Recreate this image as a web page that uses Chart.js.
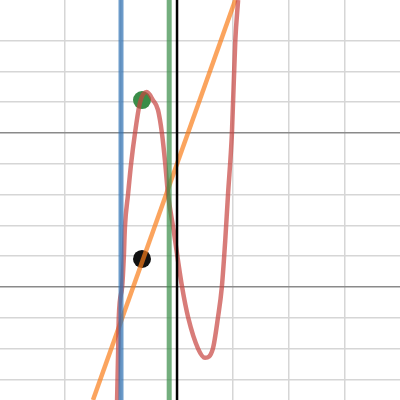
<!DOCTYPE html>
<html>
<head>
<meta charset="utf-8">
<script src="https://cdn.jsdelivr.net/npm/chart.js@4"></script>
<style>
  body { margin: 0; background: #fff; }
</style>
</head>
<body>
<canvas id="myChart" width="400" height="400"></canvas>
<script>
// curve points (graph units)
const curveX = [-1.07, -1.05, -1.04, -0.98, -0.95, -0.93, -0.875, -0.82, -0.75, -0.66, -0.54, -0.43, -0.34, -0.27, -0.21, -0.16, -0.07, 0.09, 0.2, 0.375, 0.5, 0.64, 0.73, 0.8, 0.86, 0.91, 0.98, 1.04, 1.09];
const curveY = [-3.67, -1.98, -1.0, 0, 0.97, 1.95, 3.0, 4.0, 5.0, 6.0, 6.33, 6.07, 5.75, 5.0, 4.0, 3.0, 1.95, 0, -1.0, -2.0, -2.3, -2.0, -1.0, 0, 1.5, 3.0, 5.0, 8.0, 9.32];

const lineX = [-1.5, 1.04];
const lineY = [-3.67, 9.32];

const blueX = -1.0;
const greenX = -0.14;
const blackX = 0;

const greenPoint = { x: -0.625, y: 6.07 };
const blackPoint = { x: -0.625, y: 0.91 };

const xMin = -3.16, xMax = 3.98;
const yMin = -3.67, yMax = 9.32;

function zip(xs, ys) {
  return xs.map((x, i) => ({ x: x, y: ys[i] }));
}

function vline(x) {
  return [{ x: x, y: yMin - 1 }, { x: x, y: yMax + 1 }];
}

function onlyWhole(axis) {
  axis.ticks = axis.ticks.filter((t) => Math.abs(t.value - Math.round(t.value)) < 1e-6);
}

new Chart(document.getElementById("myChart"), {
  type: "scatter",
  data: {
    datasets: [
      { data: vline(blueX), showLine: true, borderColor: "rgba(45,112,179,0.7)", borderWidth: 5, pointRadius: 0 },
      { data: vline(greenX), showLine: true, borderColor: "rgba(56,140,70,0.7)", borderWidth: 5, pointRadius: 0 },
      { data: vline(blackX), showLine: true, borderColor: "#000", borderWidth: 2.5, pointRadius: 0 },
      { data: zip(curveX, curveY), showLine: true, borderColor: "rgba(199,68,64,0.7)", borderWidth: 4.5, pointRadius: 0, cubicInterpolationMode: "monotone" },
      { data: zip(lineX, lineY), showLine: true, borderColor: "rgba(250,126,25,0.7)", borderWidth: 4.5, pointRadius: 0 },
      { data: [greenPoint], pointRadius: 9, backgroundColor: "#3a8d48", borderWidth: 0 },
      { data: [blackPoint], pointRadius: 9, backgroundColor: "#111", borderWidth: 0 },
    ],
  },
  options: {
    responsive: false,
    animation: false,
    layout: { padding: 0, autoPadding: false },
    plugins: { legend: { display: false }, tooltip: { enabled: false } },
    scales: {
      x: {
        type: "linear", min: xMin, max: xMax,
        afterBuildTicks: onlyWhole,
        ticks: { display: false, stepSize: 1 },
        border: { display: false },
        grid: { drawTicks: false, color: "#d6d6d6", lineWidth: 1.5 },
      },
      y: {
        type: "linear", min: yMin, max: yMax,
        afterBuildTicks: onlyWhole,
        ticks: { display: false, stepSize: 1 },
        border: { display: false },
        grid: {
          drawTicks: false,
          color: (ctx) => (ctx.tick && Math.round(ctx.tick.value) % 5 === 0 ? "#8a8a8a" : "#d6d6d6"),
          lineWidth: 1.5,
        },
      },
    },
  },
});
</script>
</body>
</html>
